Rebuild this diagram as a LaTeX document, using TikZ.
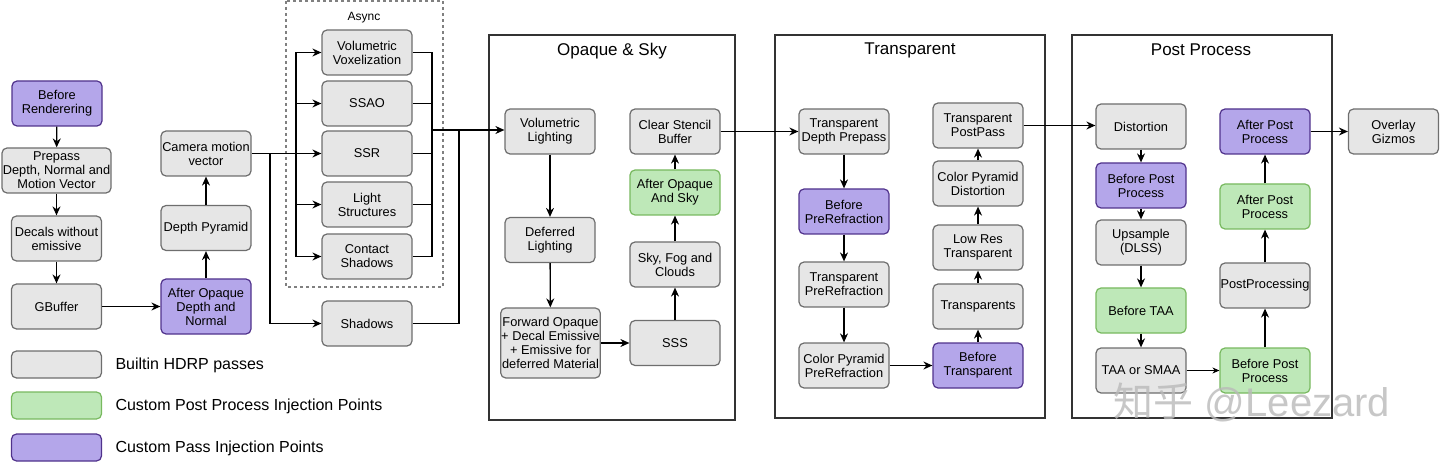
\documentclass[tikz,border=0pt]{standalone}
\usepackage{fontspec}
\setmainfont{Liberation Sans}
\newfontfamily\cjk{Noto Sans CJK SC}
\usetikzlibrary{arrows.meta}
\definecolor{gfill}{RGB}{230,230,230}
\definecolor{gline}{RGB}{110,110,110}
\definecolor{pfill}{RGB}{180,166,234}
\definecolor{pline}{RGB}{80,50,140}
\definecolor{cfill}{RGB}{190,232,184}
\definecolor{cline}{RGB}{120,185,95}
\begin{document}
\begin{tikzpicture}[x=1pt,y=-1pt,
    box/.style={rounded corners=5pt, draw=gline, fill=gfill, line width=1.2pt,
        minimum width=90pt, minimum height=45pt, align=center, inner sep=0.5pt,
        font=\fontsize{12.8}{14}\selectfont},
    pbox/.style={box, draw=pline, fill=pfill},
    cbox/.style={box, draw=cline, fill=cfill},
    frame/.style={draw=black!80, line width=1.8pt},
    arr/.style={-{Stealth[length=9pt,width=8pt]}, line width=1.3pt},
    ln/.style={line width=1.3pt},
    ttl/.style={font=\fontsize{17}{19}\selectfont},
    leg/.style={anchor=west, font=\fontsize{16}{18}\selectfont}
]
\useasboundingbox (0,0) rectangle (1440,462);

% group frames
\draw[dashed, draw=gray, line width=1.2pt] (286,1) rectangle (443,287);
\node[font=\fontsize{12}{13}\selectfont] (async) at (364,18) {Async};
\draw[frame] (489,35) rectangle (735,420);
\node[ttl] (t1) at (612,51) {Opaque \& Sky};
\draw[frame] (775,35) rectangle (1045,418);
\node[ttl] (t2) at (910,50) {Transparent};
\draw[frame] (1072,35) rectangle (1332,418);
\node[ttl] (t3) at (1201,50) {Post Process};

% left column
\node[pbox] (br) at (57,103.5) {Before\\Renderering};
\node[box, minimum width=109pt] (pre) at (56.5,170.5) {Prepass\\Depth, Normal and\\Motion Vector};
\node[box] (dec) at (56.5,238.5) {Decals without\\emissive};
\node[box] (gb) at (56.5,306.5) {GBuffer};
\node[pbox, minimum height=55pt] (aod) at (206,306.5) {After Opaque\\Depth and\\Normal};
\node[box] (dp) at (206,228) {Depth Pyramid};
\node[box] (cam) at (206,153.5) {Camera motion\\vector};

% async
\node[box] (vox) at (367,52.5) {Volumetric\\Voxelization};
\node[box] (ssao) at (367,103.5) {SSAO};
\node[box] (ssr) at (367,153.5) {SSR};
\node[box] (ls) at (367,204.5) {Light\\Structures};
\node[box] (cs) at (367,256.5) {Contact\\Shadows};
\node[box] (sh) at (367,323.5) {Shadows};

% opaque & sky
\node[box] (vl) at (550,131.5) {Volumetric\\Lighting};
\node[box] (dl) at (550,240) {Deferred\\Lighting};
\node[box, minimum width=99pt, minimum height=70pt] (fo) at (550.5,343) {Forward Opaque\\+ Decal Emissive\\+ Emissive for\\deferred Material};
\node[box] (sss) at (675,343) {SSS};
\node[box] (sky) at (675,264.5) {Sky, Fog and\\Clouds};
\node[cbox] (aos) at (675,192.5) {After Opaque\\And Sky};
\node[box] (stc) at (675,131.5) {Clear Stencil\\Buffer};

% transparent
\node[box] (tdp) at (844,131.5) {Transparent\\Depth Prepass};
\node[pbox] (bpr) at (844,211.5) {Before\\PreRefraction};
\node[box] (tpr) at (844,284.5) {Transparent\\PreRefraction};
\node[box] (cpp) at (844,365.5) {Color Pyramid\\PreRefraction};
\node[pbox] (bt) at (978,365.5) {Before\\Transparent};
\node[box] (trs) at (978,306.5) {Transparents};
\node[box] (lrt) at (978,247.5) {Low Res\\Transparent};
\node[box] (cpd) at (978,183.5) {Color Pyramid\\Distortion};
\node[box] (tpp) at (978,125.5) {Transparent\\PostPass};

% post process
\node[box] (dis) at (1141,126.5) {Distortion};
\node[pbox] (bpp) at (1141,185.5) {Before Post\\Process};
\node[box] (ups) at (1141,242.5) {Upsample\\(DLSS)};
\node[cbox] (btaa) at (1141,310.5) {Before TAA};
\node[box] (taa) at (1141,370.5) {TAA or SMAA};
\node[cbox] (bppc) at (1265,370.5) {Before Post\\Process};
\node[box] (pp) at (1265,285.5) {PostProcessing};
\node[cbox] (appc) at (1265,206.5) {After Post\\Process};
\node[pbox] (app) at (1265,131.5) {After Post\\Process};
\node[box] (og) at (1393.5,131.5) {Overlay\\Gizmos};

% legend
\node[box, minimum height=27pt] (l1) at (56.5,364.5) {};
\node[cbox, minimum height=27pt] (l2) at (56.5,405.5) {};
\node[pbox, minimum height=27pt] (l3) at (56.5,447.5) {};
\node[leg] (lt1) at (112,365) {Builtin HDRP passes};
\node[leg] (lt2) at (112,406) {Custom Post Process Injection Points};
\node[leg] (lt3) at (112,448) {Custom Pass Injection Points};

% left flow
\draw[arr] (br) -- (pre);
\draw[arr] (pre) -- (dec);
\draw[arr] (dec) -- (gb);
\draw[arr] (gb) -- (aod);
\draw[arr] (aod) -- (dp);
\draw[arr] (dp) -- (cam);
\draw[arr] (cam) -- (ssr);
\coordinate (b1) at (270,153.5);
\coordinate (b2) at (296,153.5);
\draw[arr] (b1) |- (sh);
\draw[arr] (b2) |- (vox);
\draw[arr] (b2) |- (ssao);
\draw[arr] (b2) |- (ls);
\draw[arr] (b2) |- (cs);
\coordinate (m1) at (432,130);
\coordinate (m2) at (459,130);
\draw[ln] (vox) -| (m1);
\draw[ln] (ssao) -| (m1);
\draw[ln] (ssr) -| (m1);
\draw[ln] (ls) -| (m1);
\draw[ln] (cs) -| (m1);
\draw[ln] (sh) -| (m2);
\draw[arr] (m1) -- (vl.west |- m1);

% opaque flow
\draw[arr] (vl) -- (dl);
\draw[arr] (dl) -- (fo);
\draw[arr] (fo) -- (sss);
\draw[arr] (sss) -- (sky);
\draw[arr] (sky) -- (aos);
\draw[arr] (aos) -- (stc);
\draw[arr] (stc) -- (tdp);

% transparent flow
\draw[arr] (tdp) -- (bpr);
\draw[arr] (bpr) -- (tpr);
\draw[arr] (tpr) -- (cpp);
\draw[arr] (cpp) -- (bt);
\draw[arr] (bt) -- (trs);
\draw[arr] (trs) -- (lrt);
\draw[arr] (lrt) -- (cpd);
\draw[arr] (cpd) -- (tpp);
\draw[arr] (tpp) -- (tpp -| dis.west);

% post flow
\draw[arr] (dis) -- (bpp);
\draw[arr] (bpp) -- (ups);
\draw[arr] (ups) -- (btaa);
\draw[arr] (btaa) -- (taa);
\draw[-{Stealth[length=7pt,width=6pt]}, line width=0.8pt] (taa) -- (bppc);
\draw[arr] (bppc) -- (pp);
\draw[arr] (pp) -- (appc);
\draw[arr] (appc) -- (app);
\draw[arr] (app) -- (og);

% watermark
\node[text=gray!55, opacity=0.8, font=\fontsize{40}{42}\selectfont] (wm) at (1252,402) {{\cjk 知乎} @Leezard};
\end{tikzpicture}
\end{document}
